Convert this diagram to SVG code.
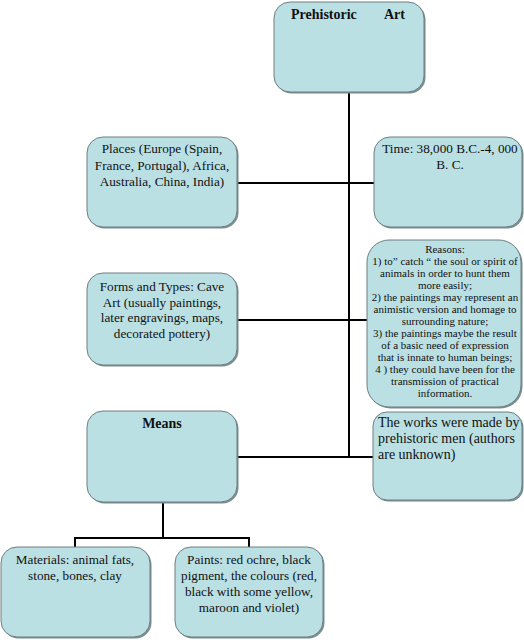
<svg xmlns="http://www.w3.org/2000/svg" width="524" height="640" viewBox="0 0 524 640">
<style>
.box{fill:#bae0e3;stroke:#6e7e80;stroke-width:1}
.sh{fill:#7d8e90}
.t{font-family:"Liberation Serif","Times New Roman",serif;font-size:13.2px;fill:#111;text-anchor:middle}
.s{font-family:"Liberation Serif","Times New Roman",serif;font-size:11px;fill:#111;text-anchor:middle}
.b{font-family:"Liberation Serif","Times New Roman",serif;font-size:14px;font-weight:bold;fill:#111}
.w{font-family:"Liberation Serif","Times New Roman",serif;font-size:14px;fill:#111}
.c{fill:none;stroke:#000;stroke-width:2}
</style>
<rect width="524" height="640" fill="#fff"/>
<g id="connectors">
<line class="c" x1="349" y1="92" x2="349" y2="458"/>
<line class="c" x1="237" y1="183" x2="374" y2="183"/>
<line class="c" x1="237" y1="320" x2="367" y2="320"/>
<line class="c" x1="237" y1="457" x2="373" y2="457"/>
<polyline class="c" points="163,502 163,538 75,538 75,547"/>
<polyline class="c" points="163,538 249,538 249,547"/>
</g>
<g id="prehistoric-art">
<rect class="sh" x="275.5" y="3.5" width="150" height="90" rx="16"/>
<rect class="box" x="274" y="2" width="150" height="90" rx="16"/>
<text class="b" x="291" y="19">Prehistoric</text>
<text class="b" x="405" y="19" text-anchor="end">Art</text>
</g>
<g id="places">
<rect class="sh" x="88.5" y="138.5" width="150" height="90" rx="16"/>
<rect class="box" x="87" y="137" width="150" height="90" rx="16"/>
<text class="t" x="162" y="153">Places (Europe (Spain,</text>
<text class="t" x="162" y="170">France, Portugal), Africa,</text>
<text class="t" x="162" y="186">Australia, China, India)</text>
</g>
<g id="time">
<rect class="sh" x="375.5" y="138.5" width="148" height="90" rx="16"/>
<rect class="box" x="374" y="137" width="148" height="90" rx="16"/>
<text class="t" x="450" y="153">Time: 38,000 B.C.-4, 000</text>
<text class="t" x="450" y="169">B. C.</text>
</g>
<g id="forms">
<rect class="sh" x="88.5" y="274.5" width="150" height="92" rx="16"/>
<rect class="box" x="87" y="273" width="150" height="92" rx="16"/>
<text class="t" x="162" y="291">Forms and Types: Cave</text>
<text class="t" x="162" y="307">Art (usually paintings,</text>
<text class="t" x="162" y="322">later engravings, maps,</text>
<text class="t" x="162" y="338">decorated pottery)</text>
</g>
<g id="reasons">
<rect class="sh" x="368.5" y="241.5" width="154" height="167" rx="22"/>
<rect class="box" x="367" y="240" width="154" height="167" rx="22"/>
<text class="s" x="445" y="253">Reasons:</text>
<text class="s" x="445" y="265">1) to” catch “ the soul  or spirit of</text>
<text class="s" x="445" y="277">animals in order to hunt them</text>
<text class="s" x="445" y="289">more easily;</text>
<text class="s" x="445" y="301">2) the paintings may represent an</text>
<text class="s" x="445" y="313">animistic version and homage to</text>
<text class="s" x="445" y="325">surrounding nature;</text>
<text class="s" x="445" y="337">3) the paintings maybe the result</text>
<text class="s" x="445" y="349">of a basic need of  expression</text>
<text class="s" x="445" y="361">that is innate to human beings;</text>
<text class="s" x="445" y="373">4 ) they could have been for the</text>
<text class="s" x="445" y="385">transmission of practical</text>
<text class="s" x="445" y="397">information.</text>
</g>
<g id="means">
<rect class="sh" x="88.5" y="412.5" width="150" height="91" rx="16"/>
<rect class="box" x="87" y="411" width="150" height="91" rx="16"/>
<text class="b" x="162" y="428" text-anchor="middle">Means</text>
</g>
<g id="works">
<rect class="sh" x="374.5" y="413.5" width="149" height="88" rx="14"/>
<rect class="box" x="373" y="412" width="149" height="88" rx="14"/>
<text class="w" x="378" y="427">The works were made by</text>
<text class="w" x="378" y="443">prehistoric men (authors</text>
<text class="w" x="378" y="459">are unknown)</text>
</g>
<g id="materials">
<rect class="sh" x="2.5" y="548.5" width="149" height="90" rx="16"/>
<rect class="box" x="1" y="547" width="149" height="90" rx="16"/>
<text class="t" x="75" y="564">Materials: animal fats,</text>
<text class="t" x="75" y="580">stone, bones, clay</text>
</g>
<g id="paints">
<rect class="sh" x="176.5" y="548.5" width="148" height="90" rx="16"/>
<rect class="box" x="175" y="547" width="148" height="90" rx="16"/>
<text class="t" x="249" y="564">Paints: red ochre, black</text>
<text class="t" x="249" y="580">pigment, the colours (red,</text>
<text class="t" x="249" y="596">black with some  yellow,</text>
<text class="t" x="249" y="612">maroon and violet)</text>
</g>
</svg>
